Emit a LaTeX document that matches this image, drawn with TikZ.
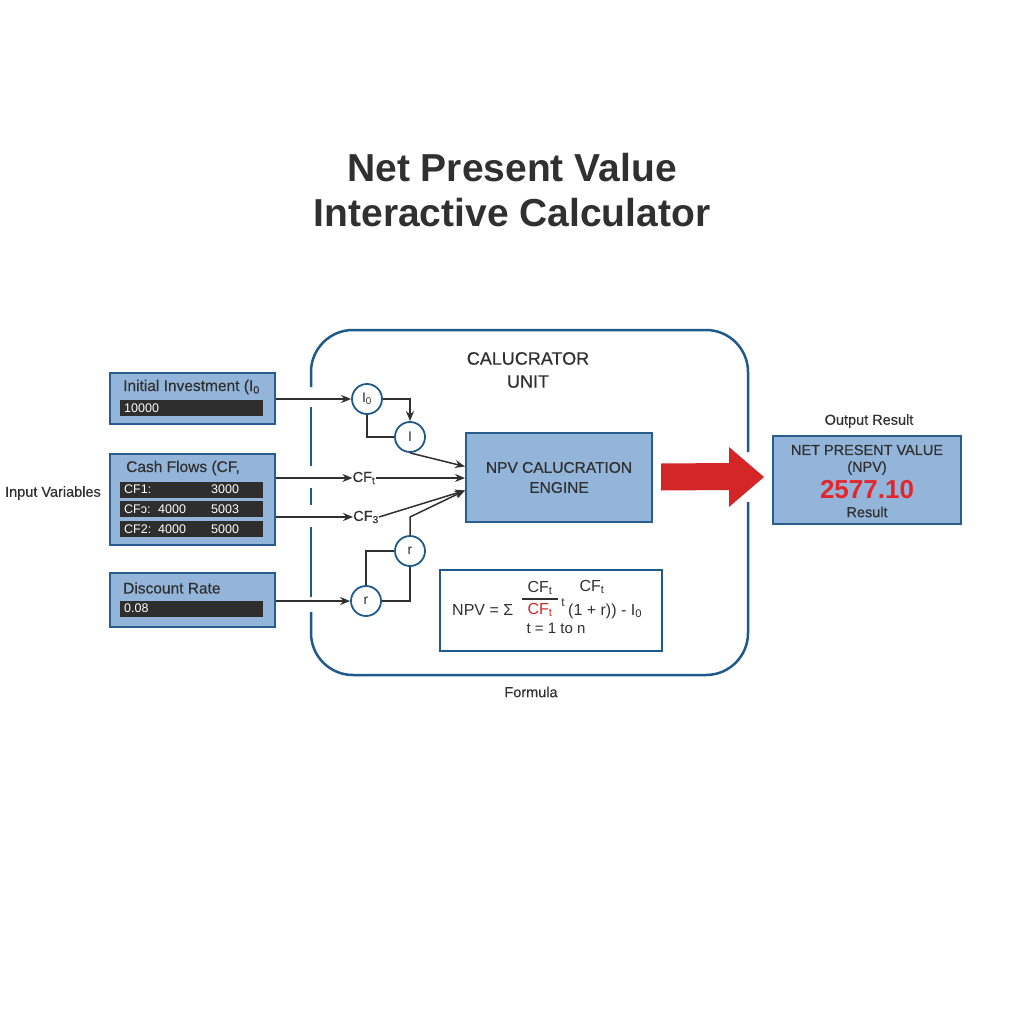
\documentclass[tikz,border=0pt]{standalone}
\usepackage{fontspec}
\setmainfont{Liberation Sans}
\newfontfamily\medf{Liberation Sans}[FakeBold=0.45]
\usetikzlibrary{arrows.meta,calc}
\definecolor{boxfill}{HTML}{93B5D9}
\definecolor{boxline}{HTML}{2A5D8F}
\definecolor{unitline}{HTML}{1F5A8C}
\definecolor{txt}{HTML}{303030}
\definecolor{barc}{HTML}{2E2E2E}
\definecolor{redc}{HTML}{D42626}
\definecolor{numred}{HTML}{E3262B}
\tikzset{
  inbox/.style={draw=boxline, line width=2pt, fill=boxfill, minimum width=165pt, inner sep=0pt},
  bar/.style={fill=barc, minimum width=143pt, minimum height=16pt, inner sep=0pt},
  bartxt/.style={text=white, font=\fontsize{12.5}{13}\selectfont, anchor=west, inner sep=0pt},
  boxtitle/.style={text=txt, font=\medf\fontsize{15.5}{17}\selectfont, anchor=west, inner sep=0pt},
  circ/.style={circle, draw=unitline, line width=1.8pt, fill=white, minimum size=30pt, inner sep=0pt, text=txt, font=\fontsize{14}{16}\selectfont},
  conn/.style={draw=txt, line width=1.5pt},
  arr/.style={conn, -{Stealth[length=10pt,width=8pt]}},
  lbl/.style={text=txt, inner sep=0pt, font=\medf\fontsize{14.5}{16}\selectfont},
  unit/.style={draw=unitline, line width=2.5pt, rounded corners=42pt},
  ftxt/.style={text=txt, inner sep=0pt, font=\fontsize{16}{18}\selectfont},
}
\begin{document}
\begin{tikzpicture}[x=1pt,y=-1pt]
\useasboundingbox[fill=white] (0,0) rectangle (1024,1024);

% title
\node[text=txt, font=\fontsize{39}{42}\bfseries\selectfont, inner sep=0pt] (t1) at (512,168) {Net Present Value};
\node[text=txt, font=\fontsize{39}{42}\bfseries\selectfont, inner sep=0pt] (t2) at (512,213) {Interactive Calculator};

% container
\draw[unit] (311,612) -- (311,675) -- (748,675) -- (748,502);
\draw[unit] (748,452) -- (748,330) -- (311,330) -- (311,387);
\draw[unitline, line width=2.5pt] (311,407) -- (311,466);
\draw[unitline, line width=2.5pt] (311,488) -- (311,505);
\draw[unitline, line width=2.5pt] (311,527) -- (311,597);
\node[text=txt, font=\medf\fontsize{18}{23}\selectfont, align=center, inner sep=0pt] (unitlbl) at (528,370) {CALUCRATOR\\UNIT};
\node[lbl] (formlbl) at (531,692) {Formula};

% input boxes
\node[lbl, anchor=east] (invar) at (101,493) {Input Variables};
\node[inbox, minimum height=51pt] (b1) at (192.5,398.5) {};
\node[boxtitle] (b1t) at (123,387) {Initial Investment (I\textsubscript{0}};
\node[bar] (b1bar) at (191.5,408) {};
\node[bartxt] (b1v) at (124,408) {10000};

\node[inbox, minimum height=91pt] (b2) at (192.5,499.5) {};
\node[boxtitle] (b2t) at (126,468) {Cash Flows (CF,};
\node[bar] (b2r1) at (191.5,489.5) {};
\node[bar] (b2r2) at (191.5,509) {};
\node[bar] (b2r3) at (191.5,529) {};
\node[bartxt] (c1a) at (124,489.5) {CF1:};
\node[bartxt] (c1b) at (211,489.5) {3000};
\node[bartxt] (c2a) at (124,509) {CF\reflectbox{c}:};
\node[bartxt] (c2b) at (158,509) {4000};
\node[bartxt] (c2c) at (211,509) {5003};
\node[bartxt] (c3a) at (124,529) {CF2:};
\node[bartxt] (c3b) at (158,529) {4000};
\node[bartxt] (c3c) at (211,529) {5000};

\node[inbox, minimum height=54pt] (b3) at (192.5,600) {};
\node[boxtitle] (b3t) at (123,588) {Discount Rate};
\node[bar] (b3bar) at (191.5,608.5) {};
\node[bartxt] (b3v) at (124,608.5) {0.08};

% inner nodes
\node[circ] (i0) at (367,399) {I\textsubscript{0}};
\node[circ] (ii) at (410,437) {I};
\node[lbl] (cft) at (364,478) {CF\textsubscript{t}};
\node[lbl] (cf3) at (366,517) {CF\textsubscript{3}};
\node[circ] (r1) at (366,601) {r};
\node[circ] (r2) at (410,551) {r};

\node[draw=boxline, line width=2pt, fill=boxfill, minimum width=186pt, minimum height=89pt, inner sep=0pt, text=txt, align=center, font=\medf\fontsize{15.5}{20}\selectfont] (engine) at (559,477.5) {NPV CALUCRATION\\ENGINE};

\coordinate (e1) at ($(engine.west)+(0,-11)$);
\coordinate (e2) at ($(engine.west)+(0,0.5)$);
\coordinate (e3) at ($(engine.west)+(0,13)$);
\coordinate (rk) at (410,517);

% connectors
\draw[arr] (b1.east |- i0.west) -- (i0.west);
\draw[arr] (i0.east) -| (ii.north);
\draw[conn] (i0.south) |- (ii.west);
\draw[arr] (ii.south) -- (e1);
\draw[arr] (b2.east |- cft.west) -- (cft.west);
\draw[arr] (b2.east |- cf3.west) -- (cf3.west);
\draw[arr] (cft.east) -- (e2);
\draw[arr] (cf3.east) -- (e3);
\draw[arr] (b3.east |- r1.west) -- (r1.west);
\draw[conn] (r1.east) -| (r2.south);
\draw[conn] (r1.north) |- (r2.west);
\draw[arr] (r2.north) -- (rk) -- (e3);

% output
\node[draw=boxline, line width=2pt, fill=boxfill, minimum width=188pt, minimum height=88pt, inner sep=0pt] (out) at (867,480) {};
\node[lbl] (outlbl) at (869,421) {Output Result};
\node[lbl] (o1) at (867,450) {NET PRESENT VALUE};
\node[lbl] (o2) at (867,468) {(NPV)};
\node[text=numred, inner sep=0pt, font=\fontsize{26}{28}\bfseries\selectfont] (o3) at (867,490) {2577.10};
\node[lbl] (o4) at (867,512) {Result};

% red arrow
\fill[redc] ($(engine.east)+(8,-14)$) -- ($(out.west)+(-43,-17)$) -- ($(out.west)+(-43,-33)$) -- ($(out.west)+(-8,-3)$) -- ($(out.west)+(-43,27)$) -- ($(out.west)+(-43,10)$) -- ($(engine.east)+(8,13)$) -- cycle;

% formula
\node[draw=unitline, line width=2.2pt, fill=white, minimum width=222pt, minimum height=81pt, inner sep=0pt] (fbox) at (551,610.5) {};
\node[ftxt, anchor=west] (f1) at (452,610) {NPV = Σ};
\node[ftxt] (fnum) at (540,588) {CF\textsubscript{t}};
\node[ftxt, text=redc] (fden) at (540,610) {CF\textsubscript{t}};
\draw[txt, line width=1.2pt] (522,599) -- (558,599);
\node[ftxt, font=\fontsize{12}{14}\selectfont] (fsup) at (563,603) {t};
\node[ftxt, anchor=west] (f2) at (568,611) {(1 + r)) - I\textsubscript{0}};
\node[ftxt] (ftop) at (592,587) {CF\textsubscript{t}};
\node[ftxt, font=\fontsize{15}{17}\selectfont] (fbot) at (556,628) {t = 1 to n};
\end{tikzpicture}
\end{document}
